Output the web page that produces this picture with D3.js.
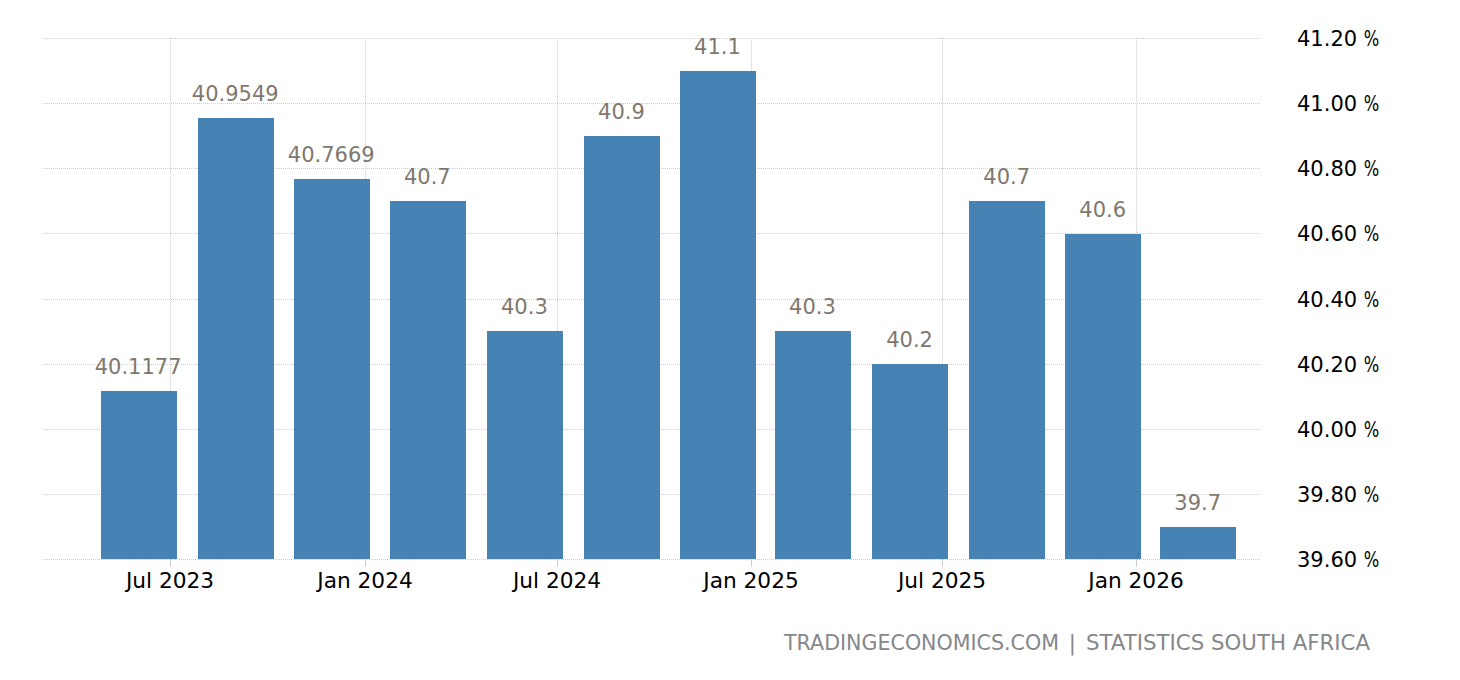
<!DOCTYPE html>
<html><head><meta charset="utf-8">
<script src="https://cdn.jsdelivr.net/npm/d3@7"></script>
<style>
html,body{margin:0;padding:0;background:#fff}
svg{display:block}
text{font-family:"DejaVu Sans",sans-serif}
</style></head><body>
<svg id="c" width="1460" height="680"></svg>
<script>
const dates=["2023-06-01","2023-09-01","2023-12-01","2024-03-01","2024-06-01","2024-09-01","2024-12-01","2025-03-01","2025-06-01","2025-09-01","2025-12-01","2026-03-01"];
const values=[40.1177,40.9549,40.7669,40.7,40.3,40.9,41.1,40.3,40.2,40.7,40.6,39.7];
const valueLabels=["40.1177","40.9549","40.7669","40.7","40.3","40.9","41.1","40.3","40.2","40.7","40.6","39.7"];
const yTicks=[39.6,39.8,40.0,40.2,40.4,40.6,40.8,41.0,41.2];
const xTickDates=["2023-07-01","2024-01-01","2024-07-01","2025-01-01","2025-07-01","2026-01-01"];
const sourceLeft="TRADINGECONOMICS.COM";
const sourceSep="|";
const sourceRight="STATISTICS SOUTH AFRICA";

const parse=d3.utcParse("%Y-%m-%d");
const x=d3.scaleUtc().domain([parse(xTickDates[0]),parse(xTickDates[5])]).range([170.4,1136]);
const y=d3.scaleLinear().domain([39.6,41.2]).range([559,38]);
const gridL=43,gridR=1260,barW=76;
const svg=d3.select("#c");
const fs=21;

// horizontal grid + right axis
const ya=svg.append("g").attr("transform",`translate(${gridR},0)`)
  .call(d3.axisRight(y).tickValues(yTicks).tickSize(0).tickPadding(37).tickFormat(d=>d3.format(".2f")(d)+" "));
ya.select(".domain").remove();
ya.selectAll(".tick").attr("transform",d=>`translate(0,${Math.round(y(d))+0.5})`);
ya.selectAll("text").attr("font-size",fs).attr("fill","#000").attr("font-family","DejaVu Sans").attr("dy","0.37em").attr("y",-0.5).style("white-space","pre")
  .append("tspan").attr("textLength",15.5).attr("lengthAdjust","spacingAndGlyphs").text("%");
ya.selectAll("line").attr("x1",gridL-gridR).attr("x2",0).attr("stroke","#ccc").attr("stroke-dasharray","1 1");

// vertical grid + bottom axis
const xa=svg.append("g").attr("transform","translate(0,559.5)")
  .call(d3.axisBottom(x).tickValues(xTickDates.map(parse)).tickSize(0).tickPadding(13).tickFormat(d3.utcFormat("%b %Y")));
xa.select(".domain").remove();
xa.selectAll(".tick").attr("transform",d=>`translate(${Math.round(x(d))+0.5},0)`);
xa.selectAll("text").attr("font-size",21.7).attr("fill","#000").attr("font-family","DejaVu Sans").attr("x",-0.5);
xa.selectAll("line").attr("y1",-521.5).attr("y2",-0.5).attr("stroke","#ccc").attr("stroke-dasharray","1 1");
xa.selectAll(".tick").append("line").attr("y1",-0.5).attr("y2",7).attr("stroke","#ccc");

// bars
svg.append("g").selectAll("rect").data(values).join("rect")
  .attr("x",(d,i)=>x(parse(dates[i]))-barW/2).attr("width",barW)
  .attr("y",d=>y(d)+0.3).attr("height",d=>y(39.6)-y(d)-0.3).attr("fill","#4682b4").attr("shape-rendering","crispEdges");

// value labels
svg.append("g").selectAll("text").data(values).join("text")
  .attr("x",(d,i)=>x(parse(dates[i]))-0.6).attr("y",d=>y(d)-16.8)
  .attr("text-anchor","middle").attr("font-size",fs).attr("fill","#80786e")
  .text((d,i)=>valueLabels[i]);

// source line
const src=svg.append("text").attr("y",650).attr("font-size",21.2).attr("fill","#85878b");
src.append("tspan").attr("x",784).attr("textLength",275).attr("lengthAdjust","spacingAndGlyphs").text(sourceLeft);
src.append("tspan").attr("x",1068.7).text(sourceSep);
src.append("tspan").attr("x",1086).attr("textLength",284).attr("lengthAdjust","spacingAndGlyphs").text(sourceRight);
</script></body></html>
